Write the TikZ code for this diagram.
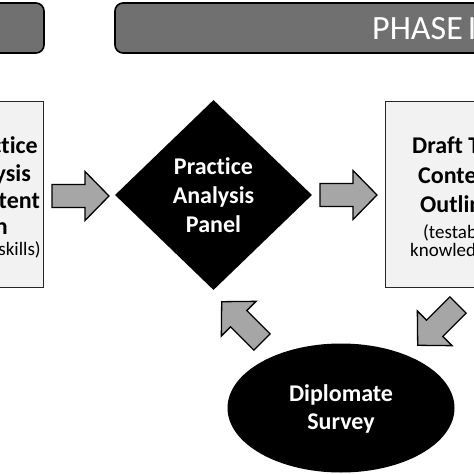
\documentclass[tikz,border=0pt]{standalone}
\usepackage{fontspec}
\setmainfont[Ligatures={NoCommon}]{Carlito}
\usetikzlibrary{shapes.geometric}
\definecolor{bannerfill}{RGB}{112,112,112}
\definecolor{boxfill}{RGB}{242,242,242}
\definecolor{arrowfill}{RGB}{166,166,166}
\tikzset{
  banner/.style={draw=black, line width=1.6pt, fill=bannerfill, rounded corners=8pt},
  sidebox/.style={draw=black!85, line width=1.2pt, fill=boxfill, inner sep=0pt},
  blockarrow/.style={draw=black, line width=1.3pt, fill=arrowfill, line join=miter},
  boldtxt/.style={font=\fontsize{24}{29}\selectfont\bfseries, inner sep=0pt},
  smalltxt/.style={font=\fontsize{19}{22}\selectfont, inner sep=0pt},
  whitetxt/.style={boldtxt, text=white},
  barrow/.pic={\draw[blockarrow] (0,-11.5) -- (33,-11.5) -- (33,-24.5) -- (57,0) -- (33,24.5) -- (33,11.5) -- (0,11.5) -- cycle;}
}
\begin{document}
\begin{tikzpicture}[x=1pt,y=-1pt]
\useasboundingbox (0,0) rectangle (474,474);
\clip (0,0) rectangle (474,474);
\fill[white] (0,0) rectangle (474,474);
% banners
\draw[banner] (-100,3) rectangle (44,53);
\draw[banner] (115,3) rectangle (600,53);
\node[anchor=base west, font=\fontsize{34}{34}\selectfont, text=white, inner sep=0pt] (phase) at (372,39) {PHASE\hspace{5pt}I};
% side boxes
\node[sidebox, minimum width=180pt, minimum height=186pt, anchor=north east] (lbox) at (44,101) {};
\node[sidebox, minimum width=180pt, minimum height=186pt, anchor=north west] (rbox) at (385,101) {};
% left box text (clipped)
\node[boldtxt, anchor=base east] (l1) at (38,153) {Existing Practice};
\node[boldtxt, anchor=base east] (l2) at (31,181) {Analysis};
\node[boldtxt, anchor=base east] (l3) at (40,208) {Content};
\node[boldtxt, anchor=base east] (l4) at (8,234) {Domain};
\node[smalltxt, anchor=base east] (l5) at (41,255) {(knowledge and skills)};
% right box text (clipped)
\node[boldtxt, anchor=base west] (r1) at (412,153) {Draft Test};
\node[boldtxt, anchor=base west] (r2) at (418,183) {Content};
\node[boldtxt, anchor=base west] (r3) at (420,212) {Outline};
\node[smalltxt, anchor=base west] (r4) at (423,238) {(testable};
\node[smalltxt, anchor=base west] (r5) at (410,256) {knowledge and skills)};
% diamond
\node[diamond, fill=black, minimum width=197pt, minimum height=190pt, inner sep=0pt] (pap) at (213.5,195) {};
\node[whitetxt, anchor=base] (p1) at (213.5,174) {Practice};
\node[whitetxt, anchor=base] (p2) at (213.5,203) {Analysis};
\node[whitetxt, anchor=base] (p3) at (213.5,232) {Panel};
% ellipse
\node[ellipse, fill=black, minimum width=227pt, minimum height=129pt, inner sep=0pt] (ds) at (341,408) {};
\node[whitetxt, anchor=base] (d1) at (341,401) {Diplomate};
\node[whitetxt, anchor=base] (d2) at (341,429) {Survey};
% block arrows
\pic at (52,196) {barrow};
\pic at (320,195) {barrow};
\pic[rotate=135] at (262,342) {barrow};
\pic[rotate=225] at (458,305) {barrow};
\end{tikzpicture}
\end{document}
